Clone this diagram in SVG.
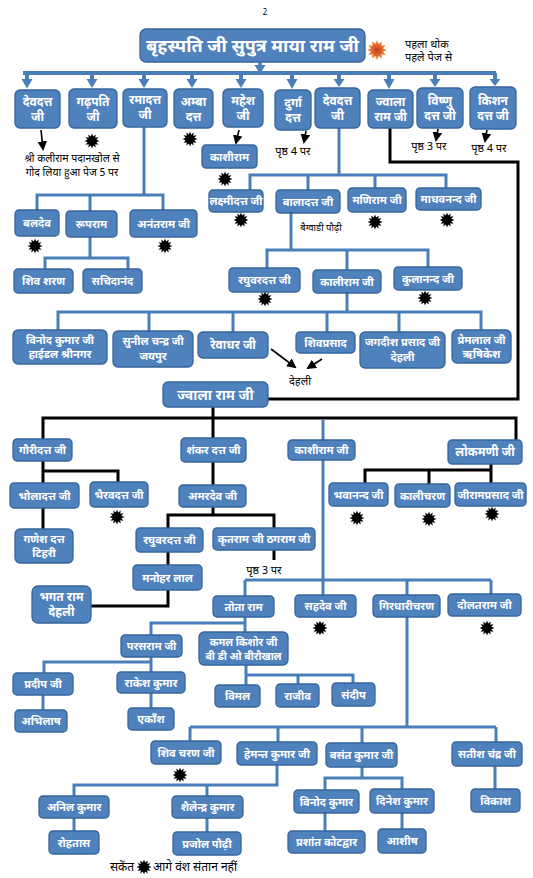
<svg xmlns="http://www.w3.org/2000/svg" width="533" height="878" viewBox="0 0 533 878">
<style>
.b{fill:#4f81bd;stroke:#36659c;stroke-width:1.3}
.t{fill:#fff;font-family:'Noto Sans Devanagari','Noto Sans','Lohit Devanagari',sans-serif;font-size:11px;font-weight:bold;text-anchor:middle}
.t12{font-size:12px}
.t14{font-size:14px}
.lb{fill:#000;font-family:'Noto Sans Devanagari','Noto Sans','Lohit Devanagari',sans-serif;font-size:10.5px;text-anchor:middle}
.bl{fill:none;stroke:#4a7ebb;stroke-width:3}
.bk{fill:none;stroke:#000;stroke-width:3}
.ar{fill:none;stroke:#000;stroke-width:1.6}
.ah{fill:#4a7ebb}
</style>
<defs>
<marker id="m" viewBox="0 0 10 10" refX="8" refY="5" markerWidth="6" markerHeight="6" orient="auto"><path d="M0,0 L10,5 L0,10 z" fill="#000"/></marker>
<polygon id="star" points="7.5,0 4.4,1.2 6.5,3.75 3.2,3.2 3.75,6.5 1.2,4.4 0,7.5 -1.2,4.4 -3.75,6.5 -3.2,3.2 -6.5,3.75 -4.4,1.2 -7.5,0 -4.4,-1.2 -6.5,-3.75 -3.2,-3.2 -3.75,-6.5 -1.2,-4.4 0,-7.5 1.2,-4.4 3.75,-6.5 3.2,-3.2 6.5,-3.75 4.4,-1.2"/>
<radialGradient id="og"><stop offset="0" stop-color="#c0392b"/><stop offset="0.6" stop-color="#e8702a"/><stop offset="1" stop-color="#f7a04a"/></radialGradient>
</defs>
<rect width="533" height="878" fill="#fff"/>
<text x="265" y="15" class="lb" style="font-size:8px">2</text>

<g id="connectors">
<path class="bl" d="M260,62 V66" style="stroke-width:3.5"/>
<polygon class="ah" points="254.5,65 265.5,65 260,74"/>
<path class="bl" d="M23,73 H496 M27,73 V80 M92,73 V80 M144,73 V80 M192,73 V80 M241,73 V80 M292,73 V80 M339,73 V80 M389,73 V80 M435,73 V80 M495,73 V80" style="stroke-width:4"/>
<polygon class="ah" points="21.5,79 32.5,79 27,88.5"/>
<polygon class="ah" points="86.5,79 97.5,79 92,88"/>
<polygon class="ah" points="138.5,79 149.5,79 144,88"/>
<polygon class="ah" points="186.5,79 197.5,79 192,88"/>
<polygon class="ah" points="235.5,79 246.5,79 241,88"/>
<polygon class="ah" points="286.5,79 297.5,79 292,89"/>
<polygon class="ah" points="333.5,79 344.5,79 339,87"/>
<polygon class="ah" points="383.5,79 394.5,79 389,89"/>
<polygon class="ah" points="429.5,79 440.5,79 435,87"/>
<polygon class="ah" points="489.5,79 500.5,79 495,86"/>
<!-- black arrows -->
<path class="ar" d="M41,130 L43,149" marker-end="url(#m)"/>
<path class="ar" d="M239,130 L236,143" marker-end="url(#m)"/>
<path class="ar" d="M306,131 L304,142" marker-end="url(#m)"/>
<path class="ar" d="M438,129 L436,140" marker-end="url(#m)"/>
<path class="ar" d="M487,130 L485,141" marker-end="url(#m)"/>
<path class="ar" d="M271,349 L295,367" marker-end="url(#m)"/>
<path class="ar" d="M322,359 L308,368" marker-end="url(#m)"/>
<!-- blue upper -->
<path class="bl" d="M144,127 V195 M37,210 V195 H163 V210 M90,195 V211"/>
<path class="bl" d="M90,237 V258 M45,269 V258 H128 V269"/>
<path class="bl" d="M339,128 V175 M250,190 V175 H446 V188 M308,175 V190 M375,175 V188"/>
<path class="bl" d="M291,213 V250 M267,268 V250 H428 V267 M347,250 V270"/>
<path class="bl" d="M347,293 V312 M58,330 V312 H481 V330 M149,312 V331 M233,312 V332 M327,312 V332 M399,312 V332"/>
<!-- black jwala -->
<path class="bk" d="M390,128 V162 H518 V399 H268"/>
<path class="bk" d="M213,407 V438 M43,439 V418 H516 V440"/>
<path class="bk" d="M43,461 V483 M43,471 H118 V482 M43,508 V529"/>
<path class="bk" d="M213,462 V485 M213,507 V515 M168,528 V515 H274 V528"/>
<path class="bk" d="M168,552 V565 M168,590 V606 H91 M274,550 V560"/>
<path class="bk" d="M491,464 V483 M365,483 V470 H491 M429,470 V484"/>
<!-- blue kashiram -->
<path class="bl" d="M323,420 V440 M323,460 V595 M245,580 H491 M245,580 V596 M407,580 V595 M491,580 V594"/>
<path class="bl" d="M245,617 V632 M245,623 H151 V635"/>
<path class="bl" d="M151,657 V672 M151,662 H44 V673 M43,695 V710 M151,693 V708"/>
<path class="bl" d="M246,665 V685 M246,675 H353 V683 M298,675 V684"/>
<path class="bl" d="M407,617 V727 M190,727 H496 M190,727 V741 M278,727 V742 M362,727 V743 M496,727 V742"/>
<path class="bl" d="M277,765 V785 H74 V796 M207,785 V796 M74,818 V831 M207,818 V832"/>
<path class="bl" d="M362,767 V778 M325,790 V778 H402 V789 M325,813 V831 M402,813 V829 M495,766 V789"/>
</g>

<g id="title"><rect class="b" x="140" y="29" width="225" height="33" rx="6"/><text class="t" x="252.5" y="52" style="font-size:18px">बृहस्पति जी सुपुत्र माया राम जी</text></g>
<g id="legend-top"><use href="#star" transform="translate(377,50) scale(1.35)" fill="url(#og)"/><text class="lb" x="405" y="48" style="text-anchor:start;font-size:11px">पहला थोक</text><text class="lb" x="405" y="61" style="text-anchor:start;font-size:11px">पहले पेज से</text></g>

<g id="n_devdatta1"><rect class="b" x="15" y="90" width="45" height="38" rx="5"/><text class="t t12" x="37.5" y="106">देवदत्त<tspan x="37.5" y="121">जी</tspan></text></g>
<g id="n_gadhpati"><rect class="b" x="69" y="89" width="48" height="39" rx="5"/><text class="t t12" x="93" y="105.5">गढ़पति<tspan x="93" y="120.5">जी</tspan></text></g>
<g id="n_ramadatta"><rect class="b" x="123" y="89" width="44" height="38" rx="5"/><text class="t t12" x="145" y="104">रमादत्त<tspan x="145" y="119">जी</tspan></text></g>
<g id="n_amba"><rect class="b" x="174" y="89" width="39" height="39" rx="5"/><text class="t t12" x="193.5" y="105.5">अम्बा<tspan x="193.5" y="120.5">दत्त</tspan></text></g>
<g id="n_mahesh"><rect class="b" x="223" y="89" width="40" height="38" rx="5"/><text class="t t12" x="243" y="105">महेश<tspan x="243" y="120">जी</tspan></text></g>
<g id="n_durga"><rect class="b" x="275" y="90" width="36" height="40" rx="5"/><text class="t t12" x="293" y="107">दुर्गा<tspan x="293" y="122">दत्त</tspan></text></g>
<g id="n_devdatta2"><rect class="b" x="315" y="88" width="45" height="40" rx="5"/><text class="t t12" x="337.5" y="105">देवदत्त<tspan x="337.5" y="120">जी</tspan></text></g>
<g id="n_jwala1"><rect class="b" x="368" y="90" width="45" height="38" rx="5"/><text class="t t12" x="390.5" y="106">ज्वाला<tspan x="390.5" y="121">राम जी</tspan></text></g>
<g id="n_vishnu"><rect class="b" x="417" y="88" width="46" height="40" rx="5"/><text class="t t12" x="440" y="105">विष्णु<tspan x="440" y="120">दत्त जी</tspan></text></g>
<g id="n_kishan"><rect class="b" x="470" y="87" width="46" height="42" rx="5"/><text class="t t12" x="493" y="105">किशन<tspan x="493" y="120">दत्त जी</tspan></text></g>

<g id="labels">
<text class="lb" x="72" y="162">श्री कलीराम पदानखोल से</text>
<text class="lb" x="72" y="176">गोद लिया हुआ पेज 5 पर</text>
<text class="lb" x="293" y="155" style="font-size:11px">पृष्ठ 4 पर</text>
<text class="lb" x="429" y="150" style="font-size:11px">पृष्ठ 3 पर</text>
<text class="lb" x="489" y="152" style="font-size:11px">पृष्ठ 4 पर</text>
<text class="lb" x="321" y="231" style="font-size:9.5px">बैग्वाडी पौढ़ी</text>
<text class="lb" x="300" y="385" style="font-size:11px">देहली</text>
<text class="lb" x="264" y="574" style="font-size:11px">पृष्ठ 3 पर</text>
</g>

<g id="n_kashiram1"><rect class="b" x="202" y="145" width="55" height="23" rx="4"/><text class="t" x="229.5" y="160.5">काशीराम</text></g>
<g id="n_laxmidatta"><rect class="b" x="209" y="190" width="54" height="22" rx="4"/><text class="t" x="236" y="205">लक्ष्मीदत्त जी</text></g>
<g id="n_baladatta"><rect class="b" x="276" y="190" width="64" height="23" rx="4"/><text class="t" x="308" y="205.5">बालादत्त जी</text></g>
<g id="n_maniram"><rect class="b" x="348" y="188" width="58" height="24" rx="4"/><text class="t" x="377" y="204">मणिराम जी</text></g>
<g id="n_madhavanand"><rect class="b" x="416" y="188" width="65" height="22" rx="4"/><text class="t" x="448.5" y="203">माधवनन्द जी</text></g>
<g id="n_raghuvar1"><rect class="b" x="229" y="268" width="71" height="24" rx="4"/><text class="t" x="264.5" y="284">रघुवरदत्त जी</text></g>
<g id="n_kaliram"><rect class="b" x="313" y="270" width="68" height="23" rx="4"/><text class="t" x="347" y="285.5">कालीराम जी</text></g>
<g id="n_kulanand"><rect class="b" x="394" y="267" width="68" height="23" rx="4"/><text class="t" x="428" y="282.5">कुलानन्द जी</text></g>
<g id="n_vinod1"><rect class="b" x="13" y="330" width="94" height="34" rx="5"/><text class="t" x="60" y="344">विनोद कुमार जी<tspan x="60" y="358">हाईडल श्रीनगर</tspan></text></g>
<g id="n_sunil"><rect class="b" x="113" y="331" width="80" height="36" rx="5"/><text class="t" x="153" y="345">सुनील चन्द्र जी<tspan x="153" y="360">जयपुर</tspan></text></g>
<g id="n_revadhar"><rect class="b" x="198" y="332" width="70" height="26" rx="5"/><text class="t t12" x="233" y="349">रेवाधर जी</text></g>
<g id="n_shivprasad"><rect class="b" x="296" y="332" width="59" height="21" rx="4"/><text class="t" x="325.5" y="346.5">शिवप्रसाद</text></g>
<g id="n_jagdish"><rect class="b" x="360" y="332" width="85" height="36" rx="5"/><text class="t" x="402.5" y="346">जगदीश प्रसाद जी<tspan x="402.5" y="361">देहली</tspan></text></g>
<g id="n_premlal"><rect class="b" x="452" y="330" width="59" height="33" rx="5"/><text class="t" x="481.5" y="344">प्रेमलाल जी<tspan x="481.5" y="358">ऋषिकेश</tspan></text></g>
<g id="n_baldev"><rect class="b" x="15" y="210" width="44" height="26" rx="4"/><text class="t" x="37" y="227">बलदेव</text></g>
<g id="n_rooparam"><rect class="b" x="66" y="211" width="51" height="26" rx="4"/><text class="t" x="91.5" y="228">रूपराम</text></g>
<g id="n_anantram"><rect class="b" x="130" y="210" width="67" height="27" rx="4"/><text class="t" x="163.5" y="227.5">अनंतराम जी</text></g>
<g id="n_shivsharan"><rect class="b" x="14" y="269" width="59" height="24" rx="4"/><text class="t" x="43.5" y="285">शिव शरण</text></g>
<g id="n_sachidanand"><rect class="b" x="83" y="269" width="59" height="24" rx="4"/><text class="t" x="112.5" y="285">सचिदानंद</text></g>

<g id="n_jwala2"><rect class="b" x="163" y="382" width="105" height="25" rx="5"/><text class="t t14" x="215.5" y="400">ज्वाला राम जी</text></g>
<g id="n_gauridatta"><rect class="b" x="13" y="439" width="59" height="22" rx="4"/><text class="t" x="42.5" y="454">गौरीदत्त जी</text></g>
<g id="n_shankar"><rect class="b" x="181" y="438" width="65" height="24" rx="4"/><text class="t" x="213.5" y="454">शंकर दत्त जी</text></g>
<g id="n_kashiram2"><rect class="b" x="288" y="440" width="67" height="20" rx="4"/><text class="t" x="321.5" y="454">काशीराम जी</text></g>
<g id="n_lokmani"><rect class="b" x="448" y="440" width="74" height="24" rx="4"/><text class="t t12" x="485" y="456">लोकमणी  जी</text></g>
<g id="n_bholadatta"><rect class="b" x="10" y="483" width="69" height="25" rx="4"/><text class="t" x="44.5" y="499.5">भोलादत्त जी</text></g>
<g id="n_bhairav"><rect class="b" x="90" y="482" width="58" height="25" rx="4"/><text class="t" x="119" y="498.5">भैरवदत्त जी</text></g>
<g id="n_ganesh"><rect class="b" x="15" y="529" width="58" height="34" rx="5"/><text class="t" x="44" y="543">गणेश दत्त<tspan x="44" y="557">टिहरी</tspan></text></g>
<g id="n_amardev"><rect class="b" x="179" y="485" width="67" height="22" rx="4"/><text class="t" x="212.5" y="500">अमरदेव जी</text></g>
<g id="n_raghuvar2"><rect class="b" x="136" y="528" width="67" height="24" rx="4"/><text class="t" x="169.5" y="544">रघुवरदत्त जी</text></g>
<g id="n_kritram"><rect class="b" x="213" y="528" width="102" height="22" rx="4"/><text class="t" x="264" y="543">कृतराम जी ठगराम जी</text></g>
<g id="n_manohar"><rect class="b" x="133" y="565" width="69" height="25" rx="4"/><text class="t" x="167.5" y="581.5">मनोहर लाल</text></g>
<g id="n_bhagat"><rect class="b" x="32" y="586" width="59" height="37" rx="6"/><text class="t t12" x="61.5" y="601">भगत राम<tspan x="61.5" y="616">देहली</tspan></text></g>
<g id="n_bhavanand"><rect class="b" x="329" y="483" width="59" height="23" rx="4"/><text class="t" x="358.5" y="498.5">भवानन्द जी</text></g>
<g id="n_kalicharan"><rect class="b" x="395" y="484" width="55" height="23" rx="4"/><text class="t" x="422.5" y="499.5">कालीचरण</text></g>
<g id="n_jiram"><rect class="b" x="455" y="483" width="71" height="23" rx="4"/><text class="t" x="490.5" y="498.5">जीरामप्रसाद जी</text></g>

<g id="n_totaram"><rect class="b" x="213" y="596" width="61" height="21" rx="4"/><text class="t" x="243.5" y="610.5">तोता राम</text></g>
<g id="n_sahdev"><rect class="b" x="295" y="595" width="61" height="22" rx="4"/><text class="t" x="325.5" y="610">सहदेव जी</text></g>
<g id="n_girdhari"><rect class="b" x="373" y="595" width="67" height="22" rx="4"/><text class="t" x="406.5" y="610">गिरधारीचरण</text></g>
<g id="n_daulat"><rect class="b" x="448" y="594" width="73" height="22" rx="4"/><text class="t" x="484.5" y="609">दौलतराम जी</text></g>
<g id="n_parasram"><rect class="b" x="121" y="635" width="61" height="22" rx="4"/><text class="t" x="151.5" y="650">परसराम जी</text></g>
<g id="n_kamal"><rect class="b" x="199" y="632" width="89" height="33" rx="5"/><text class="t" x="243.5" y="646" style="font-size:10.5px">कमल किशोर जी<tspan x="243.5" y="660">बी डी ओ बीरौखाल</tspan></text></g>
<g id="n_pradeep"><rect class="b" x="13" y="673" width="60" height="22" rx="4"/><text class="t" x="43" y="688">प्रदीप जी</text></g>
<g id="n_rakesh"><rect class="b" x="117" y="672" width="68" height="21" rx="4"/><text class="t" x="151" y="686.5">राकेश कुमार</text></g>
<g id="n_abhilash"><rect class="b" x="15" y="710" width="52" height="22" rx="4"/><text class="t" x="41" y="725">अभिलाष</text></g>
<g id="n_ekansh"><rect class="b" x="128" y="708" width="46" height="22" rx="4"/><text class="t" x="151" y="723">एकाँश</text></g>
<g id="n_vimal"><rect class="b" x="215" y="685" width="45" height="22" rx="4"/><text class="t" x="237.5" y="700">विमल</text></g>
<g id="n_rajiv"><rect class="b" x="276" y="684" width="43" height="23" rx="4"/><text class="t" x="297.5" y="699.5">राजीव</text></g>
<g id="n_sandeep"><rect class="b" x="332" y="683" width="43" height="23" rx="4"/><text class="t" x="353.5" y="698.5">संदीप</text></g>

<g id="n_shivcharan"><rect class="b" x="151" y="741" width="70" height="23" rx="4"/><text class="t" x="186" y="756.5">शिव चरण जी</text></g>
<g id="n_hemant"><rect class="b" x="237" y="742" width="80" height="23" rx="4"/><text class="t" x="277" y="757.5">हेमन्त कुमार जी</text></g>
<g id="n_basant"><rect class="b" x="326" y="743" width="71" height="24" rx="4"/><text class="t" x="361.5" y="759">बसंत कुमार जी</text></g>
<g id="n_satish"><rect class="b" x="452" y="742" width="70" height="24" rx="4"/><text class="t" x="487" y="758">सतीश चंद्र जी</text></g>
<g id="n_anil"><rect class="b" x="39" y="796" width="70" height="22" rx="4"/><text class="t" x="74" y="811">अनिल कुमार</text></g>
<g id="n_shailendra"><rect class="b" x="172" y="796" width="71" height="22" rx="4"/><text class="t" x="207.5" y="811">शैलेन्द्र कुमार</text></g>
<g id="n_rohtas"><rect class="b" x="49" y="831" width="50" height="23" rx="4"/><text class="t" x="74" y="846.5">रोहतास</text></g>
<g id="n_prajol"><rect class="b" x="173" y="832" width="68" height="23" rx="4"/><text class="t" x="207" y="847.5">प्रजोल पौढ़ी</text></g>
<g id="n_vinod2"><rect class="b" x="294" y="790" width="65" height="23" rx="4"/><text class="t" x="326.5" y="805.5">विनोद कुमार</text></g>
<g id="n_dinesh"><rect class="b" x="370" y="789" width="64" height="24" rx="4"/><text class="t" x="402" y="805">दिनेश कुमार</text></g>
<g id="n_prashant"><rect class="b" x="288" y="831" width="77" height="22" rx="4"/><text class="t" x="326.5" y="846">प्रशांत कोटद्वार</text></g>
<g id="n_ashish"><rect class="b" x="378" y="829" width="48" height="24" rx="4"/><text class="t" x="402" y="845">आशीष</text></g>
<g id="n_vikash"><rect class="b" x="471" y="789" width="49" height="23" rx="4"/><text class="t" x="495.5" y="804.5">विकाश</text></g>

<g id="stars" fill="#000">
<use href="#star" x="92" y="141"/>
<use href="#star" x="190" y="139"/>
<use href="#star" x="225" y="179"/>
<use href="#star" x="241" y="220"/>
<use href="#star" x="375" y="222"/>
<use href="#star" x="447" y="220"/>
<use href="#star" x="35" y="246"/>
<use href="#star" x="165" y="246"/>
<use href="#star" x="265" y="299"/>
<use href="#star" x="425" y="298"/>
<use href="#star" x="117" y="517"/>
<use href="#star" x="357" y="518"/>
<use href="#star" x="429" y="519"/>
<use href="#star" x="492" y="514"/>
<use href="#star" x="320" y="628"/>
<use href="#star" x="487" y="628"/>
<use href="#star" x="180" y="775"/>
</g>
<g id="legend"><text class="lb" x="110" y="871" style="text-anchor:start;font-size:12px">सकेंत</text><use href="#star" x="144" y="867"/><text class="lb" x="153" y="871" style="text-anchor:start;font-size:12px">आगे वंश संतान नहीं</text></g>
</svg>
